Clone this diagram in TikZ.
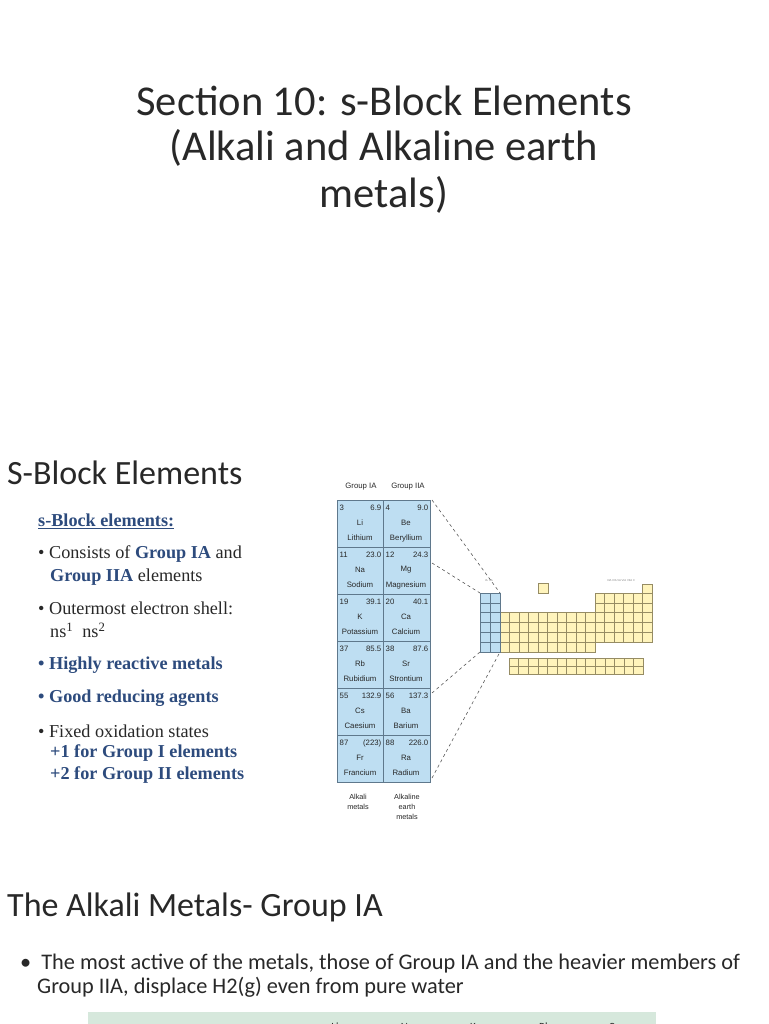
\documentclass[tikz,border=0pt]{standalone}
\usepackage{fontspec}
\setmainfont{Carlito}
\newfontfamily\serif{Liberation Serif}
\newfontfamily\sans{Liberation Sans}
\definecolor{txtblue}{RGB}{45,75,125}
\definecolor{cellblue}{RGB}{190,222,242}
\definecolor{cellline}{RGB}{95,120,140}
\definecolor{cellyel}{RGB}{255,244,188}
\definecolor{yelline}{RGB}{150,140,100}
\definecolor{stripgreen}{RGB}{214,232,220}
\definecolor{txtgray}{RGB}{40,40,40}
\tikzset{
 cellno/.style={font=\sans\fontsize{7.8}{8}\selectfont,text=txtgray,inner sep=0pt},
 dashline/.style={dashed,draw=gray!70!black,line width=0.6pt},
 bodytxt/.style={anchor=west,inner sep=0pt,font=\serif\fontsize{18.2}{20}\selectfont,text=txtgray},
 bodyblue/.style={bodytxt,text=txtblue,font=\serif\bfseries\fontsize{18.2}{20}\selectfont},
 titletxt/.style={font=\fontsize{42.5}{48}\selectfont,text=txtgray},
 headtxt/.style={anchor=west,inner sep=0pt,font=\fontsize{34}{38}\selectfont,text=txtgray},
 paratxt/.style={anchor=west,inner sep=0pt,font=\fontsize{22.3}{26}\selectfont,text=txtgray},
}
\begin{document}
\begin{tikzpicture}[x=1pt,y=-1pt]
\useasboundingbox (0,0) rectangle (768,1024);
\fill[white] (0,0) rectangle (768,1024);
% title
\node[titletxt] (t1) at (384,101) {Section 10: s-Block Elements};
\node[titletxt] (t2) at (384,148) {(Alkali and Alkaline earth};
\node[titletxt] (t3) at (384,195) {metals)};
% heading
\node[headtxt] (h1) at (7,473) {S-Block Elements};
\node[anchor=west,inner sep=0pt,font=\serif\bfseries\fontsize{18.2}{20}\selectfont,text=txtblue] (sb) at (38,521) {\underline{s-Block elements:}};
\node[bodytxt] (b1) at (38,554) {\textbullet\ Consists of \textcolor{txtblue}{\bfseries Group IA} and};
\node[bodytxt] (b1b) at (50,577) {\textcolor{txtblue}{\bfseries Group IIA} elements};
\node[bodytxt] (b2) at (38,608) {\textbullet\ Outermost electron shell:};
\node[bodytxt] (b2b) at (50,630) {ns\textsuperscript{1}\ \ ns\textsuperscript{2}};
\node[bodyblue] (b3) at (38,665) {\textbullet\ Highly reactive metals};
\node[bodyblue] (b4) at (38,698) {\textbullet\ Good reducing agents};
\node[bodytxt] (b5) at (38,731) {\textbullet\ Fixed oxidation states};
\node[bodyblue] (b5b) at (50,753) {+1 for Group I elements};
\node[bodyblue] (b5c) at (50,775) {+2 for Group II elements};
% s-block table
\node[cellno] (gA) at (361,487) {Group IA};
\node[cellno] (gB) at (408,487) {Group IIA};
\foreach \i/\za/\ma/\sa/\na/\zb/\mb/\sbb/\nb in {
 0/3/6.9/Li/Lithium/4/9.0/Be/Beryllium,
 1/11/23.0/Na/Sodium/12/24.3/Mg/Magnesium,
 2/19/39.1/K/Potassium/20/40.1/Ca/Calcium,
 3/37/85.5/Rb/Rubidium/38/87.6/Sr/Strontium,
 4/55/132.9/Cs/Caesium/56/137.3/Ba/Barium,
 5/87/(223)/Fr/Francium/88/226.0/Ra/Radium}{
  \pgfmathsetmacro{\yt}{500+47*\i}
  \fill[cellblue] (337,\yt) rectangle (430,\yt+47);
  \draw[cellline,line width=0.7pt] (337,\yt) rectangle (383,\yt+47);
  \draw[cellline,line width=0.7pt] (383,\yt) rectangle (430,\yt+47);
  \node[cellno,anchor=west] at (339.5,\yt+8) {\za};
  \node[cellno,anchor=east] at (381.5,\yt+8) {\ma};
  \node[cellno] at (360,\yt+23) {\sa};
  \node[cellno] at (360,\yt+38) {\na};
  \node[cellno,anchor=west] at (385.5,\yt+8) {\zb};
  \node[cellno,anchor=east] at (428.5,\yt+8) {\mb};
  \node[cellno] at (406,\yt+23) {\sbb};
  \node[cellno] at (406,\yt+38) {\nb};
}
\draw[cellline,line width=1pt] (337,500) rectangle (430,782);
\node[cellno,align=center,font=\sans\fontsize{7.3}{10}\selectfont] (al) at (358,802) {Alkali\\metals};
\node[cellno,align=center,font=\sans\fontsize{7.3}{10}\selectfont] (ae) at (407,807) {Alkaline\\earth\\metals};
% small periodic table
\coordinate (ca1) at (432,500); \coordinate (cb1) at (500,593);
\coordinate (ca2) at (432,563); \coordinate (cb2) at (480,593);
\coordinate (ca3) at (432,693); \coordinate (cb3) at (480,652);
\coordinate (ca4) at (432,778); \coordinate (cb4) at (500,652);
\draw[dashline] (ca1) -- (cb1);
\draw[dashline] (ca2) -- (cb2);
\draw[dashline] (ca3) -- (cb3);
\draw[dashline] (ca4) -- (cb4);
\fill[cellyel] (500,612) rectangle (595,652);
\fill[cellyel] (595,593) rectangle (652,642);
\fill[cellyel] (642,584) rectangle (652,593);
\fill[cellyel] (538,583) rectangle (548,593);
\fill[cellyel] (509,658) rectangle (643,674);
\foreach \k in {0,...,3} \foreach \j in {0,...,9} \draw[yelline,line width=0.4pt] (500+9.5*\j,612+10*\k) rectangle +(9.5,10);
\foreach \k in {0,...,4} \foreach \j in {0,...,5} \draw[yelline,line width=0.4pt] (595+9.5*\j,593+9.8*\k) rectangle +(9.5,9.8);
\draw[yelline,line width=0.4pt] (642,584) rectangle (652,593);
\draw[yelline,line width=0.4pt] (538,583) rectangle (548,593);
\foreach \j in {0,...,13} \draw[yelline,line width=0.4pt] (509+9.57*\j,658) rectangle +(9.57,16);
\draw[yelline,line width=0.4pt] (509,666) -- (643,666);
\fill[cellblue] (480,593) rectangle (500,652);
\foreach \k in {0,...,5} \foreach \j in {0,1} \draw[cellline,line width=0.4pt] (480+10*\j,593+9.83*\k) rectangle +(10,9.83);
\node[inner sep=0pt,font=\sans\fontsize{2.8}{3}\selectfont,text=gray] (lab1) at (489,581) {IA\ \ IIA};
\node[inner sep=0pt,font=\sans\fontsize{2.8}{3}\selectfont,text=gray] (lab2) at (621,581) {IIIA IVA VA VIA VIIA 0};
% alkali metals section
\node[headtxt] (h2) at (7,907) {The Alkali Metals- Group IA};
\node[paratxt] (p1) at (20,964) {\textbullet\ \ The most active of the metals, those of Group IA and the heavier members of};
\node[paratxt] (p2) at (37,987) {Group IIA, displace H2(g) even from pure water};
\fill[stripgreen] (88,1012) rectangle (656,1030);
\foreach \x/\s in {335/Li,407/Na,473/K,545/Rb,614/Cs}
  \node[inner sep=0pt,font=\fontsize{11}{12}\selectfont,text=txtgray] at (\x,1027) {\s};
\end{tikzpicture}
\end{document}
